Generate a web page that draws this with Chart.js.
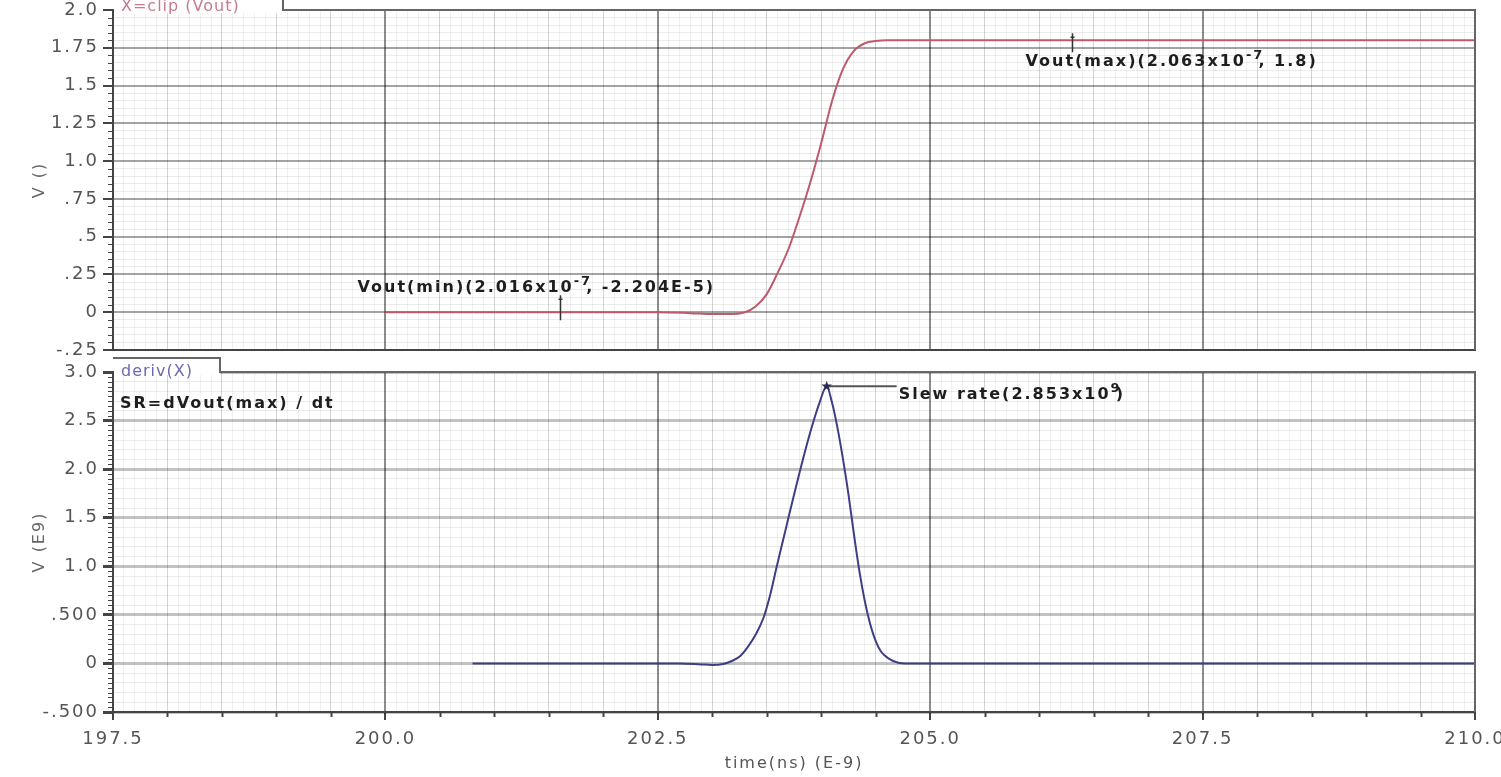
<!DOCTYPE html>
<html>
<head>
<meta charset="utf-8">
<title>Vout slew rate</title>
<script src="https://cdn.jsdelivr.net/npm/chart.js@4.4.0/dist/chart.umd.min.js"></script>
<style>
  body { margin: 0; background: #fff; }
  #wrap { position: relative; width: 1501px; height: 777px; overflow: hidden; }
  canvas { position: absolute; left: 0; }
  #topChart { top: 0; }
  #botChart { top: 354px; }
</style>
</head>
<body>
<div id="wrap">
  <canvas id="topChart" width="1501" height="362"></canvas>
  <canvas id="botChart" width="1501" height="423"></canvas>
</div>
<script>
// time axis, ns
const timeTicks = [197.5, 200.0, 202.5, 205.0, 207.5, 210.0];
const timeLabels = ['197.5', '200.0', '202.5', '205.0', '207.5', '210.0'];

// X = clip(Vout), volts
const clipTime = [200.0, 202.5, 202.8, 203.0, 203.15, 203.3, 203.4, 203.5, 203.6, 203.7, 203.8, 203.9,
  204.0, 204.1, 204.2, 204.3, 204.4, 204.5, 204.6, 204.75, 210.0];
const clipVolt = [0, 0, -0.006, -0.012, -0.012, 0.0, 0.04, 0.12, 0.26, 0.42, 0.63, 0.86,
  1.12, 1.40, 1.61, 1.73, 1.78, 1.795, 1.8, 1.8, 1.8];

// deriv(X), V/s in E9
const derivTime = [200.8, 202.7, 202.9, 203.0, 203.1, 203.19, 203.26, 203.32, 203.4, 203.47, 203.53, 203.59,
  203.65, 203.71, 203.76, 203.8, 203.86, 203.92, 203.98, 204.05, 204.1, 204.15, 204.2, 204.25, 204.3,
  204.35, 204.4, 204.45, 204.5, 204.55, 204.62, 204.7, 204.8, 210.0];
const derivVal = [0, 0, -0.01, -0.015, -0.005, 0.03, 0.08, 0.16, 0.3, 0.47, 0.7, 0.99,
  1.27, 1.55, 1.78, 1.96, 2.22, 2.46, 2.67, 2.853, 2.68, 2.42, 2.1, 1.74, 1.33,
  0.95, 0.64, 0.4, 0.23, 0.12, 0.05, 0.01, 0, 0];

// y tick labels
const topYTicks = [2.0, 1.75, 1.5, 1.25, 1.0, 0.75, 0.5, 0.25, 0, -0.25];
const topYLabels = ['2.0', '1.75', '1.5', '1.25', '1.0', '.75', '.5', '.25', '0', '-.25'];
const botYTicks = [3.0, 2.5, 2.0, 1.5, 1.0, 0.5, 0, -0.5];
const botYLabels = ['3.0', '2.5', '2.0', '1.5', '1.0', '.500', '0', '-.500'];

// markers on Vout
const markTime = [206.3, 201.6];
const markVolt = [1.8, 0];
const markText = ['Vout(max)(2.063x10', 'Vout(min)(2.016x10'];
const markSup = ['-7', '-7'];
const markTail = [', 1.8)', ', -2.204E-5)'];

// slew rate point
const slewTime = [204.05];
const slewVal = [2.853];
const slewText = ['Slew rate(2.853x10'];
const slewSup = ['9'];
const slewTail = [')'];

const AXIS = '#444';
const TICK_FONT = { family: 'DejaVu Sans', size: 18 };
const near = (v, step) => Math.abs(v / step - Math.round(v / step)) < 1e-6;
const stepTicks = (min, max, step) => {
  const n = Math.round((max - min) / step), out = [];
  for (let i = 0; i <= n; i++) out.push({ value: +(min + i * step).toFixed(5) });
  return out;
};
const labelFor = (v, vals, labels) => {
  const i = vals.findIndex(t => Math.abs(t - v) < 1e-6);
  return i < 0 ? '' : labels[i];
};
const tv = c => (c.tick ? c.tick.value : 0);

function timeScale(bottomAxis) {
  return {
    type: 'linear', min: 197.5, max: 210,
    afterBuildTicks: s => { s.ticks = stepTicks(197.5, 210, 0.1); },
    afterFit: s => { s.height = bottomAxis ? 65 : 12; s.paddingLeft = 0; s.paddingRight = 0; },
    grid: {
      color: c => near(tv(c), 2.5) ? 'rgba(0,0,0,0.45)' : near(tv(c), 0.5) ? 'rgba(0,0,0,0.17)' : 'rgba(0,0,0,0.06)',
      lineWidth: c => near(tv(c), 2.5) ? 2 : 1,
      drawTicks: bottomAxis, tickLength: 8,
      tickColor: c => near(tv(c), 2.5) ? AXIS : 'rgba(0,0,0,0)'
    },
    border: { color: AXIS, width: 2 },
    ticks: {
      display: bottomAxis, autoSkip: false, maxRotation: 0, minRotation: 0, padding: 9,
      color: '#555', font: TICK_FONT,
      callback: v => labelFor(v, timeTicks, timeLabels)
    },
    title: {
      display: bottomAxis, text: 'time(ns) (E-9)', color: '#555',
      font: { family: 'DejaVu Sans', size: 16 }, padding: { top: 0, bottom: 4 }
    }
  };
}

function voltScale(min, max, step, fine, major, vals, labels, title, majorColor, majorWidth) {
  return {
    type: 'linear', min: min, max: max,
    afterBuildTicks: s => { s.ticks = stepTicks(min, max, step); },
    afterFit: s => { s.width = 113; s.paddingTop = 0; s.paddingBottom = 0; },
    grid: {
      color: c => near(tv(c), major) ? majorColor : near(tv(c), fine) ? 'rgba(0,0,0,0.08)' : 'rgba(0,0,0,0)',
      lineWidth: c => near(tv(c), major) ? majorWidth : 1,
      tickLength: 10,
      tickColor: c => near(tv(c), major) ? AXIS : 'rgba(0,0,0,0)'
    },
    border: { color: AXIS, width: 2 },
    ticks: {
      autoSkip: false, padding: 4, color: '#555', font: TICK_FONT,
      callback: v => labelFor(v, vals, labels)
    },
    title: {
      display: true, text: title, color: '#666',
      font: { family: 'DejaVu Sans', size: 16 }, padding: { top: 30, bottom: 0 }
    }
  };
}

// wider letter spacing for all text, the scope renders text loosely
const spacing = {
  id: 'spacing',
  beforeUpdate(chart) { chart.ctx.letterSpacing = '2px'; },
  beforeDraw(chart) { chart.ctx.letterSpacing = '2px'; }
};

// panel frame, name tab and small tick marks
const frame = {
  id: 'frame',
  afterDraw(chart, args, opts) {
    const { ctx, chartArea: a, scales: { x, y } } = chart;
    ctx.save();
    ctx.strokeStyle = AXIS;
    ctx.lineWidth = 1;
    y.ticks.forEach(t => {
      if (near(t.value, opts.major)) return;
      const py = Math.round(y.getPixelForValue(t.value)) + 0.5;
      ctx.beginPath(); ctx.moveTo(a.left - 5, py); ctx.lineTo(a.left, py); ctx.stroke();
    });
    if (opts.xMarks) {
      x.ticks.forEach(t => {
        if (!near(t.value, 0.5) || near(t.value, 2.5)) return;
        const px = Math.round(x.getPixelForValue(t.value)) + 0.5;
        ctx.lineWidth = 2;
        ctx.beginPath(); ctx.moveTo(px, a.bottom); ctx.lineTo(px, a.bottom + 5); ctx.stroke();
      });
    }
    const tabRight = a.left + opts.tabWidth;
    ctx.fillStyle = '#fff';
    ctx.fillRect(a.left + 1, opts.tabTop, opts.tabWidth - 1, a.top - opts.tabTop + 3);
    ctx.strokeStyle = '#666';
    ctx.lineWidth = 2;
    ctx.beginPath();
    ctx.moveTo(a.left, opts.tabTop); ctx.lineTo(tabRight, opts.tabTop); ctx.lineTo(tabRight, a.top);
    ctx.lineTo(a.right, a.top); ctx.lineTo(a.right, a.bottom);
    ctx.stroke();
    ctx.letterSpacing = '1px';
    ctx.fillStyle = opts.tabColor;
    ctx.font = '16px "DejaVu Sans"';
    ctx.textBaseline = 'alphabetic';
    ctx.fillText(opts.tabText, a.left + 8, a.top + opts.textDy);
    ctx.restore();
  }
};

const BOLD = 'bold 16px "DejaVu Sans"';
const SUP = 'bold 13px "DejaVu Sans"';

// text with a raised exponent, as the scope prints it
function supText(ctx, base, sup, tail, x0, y0) {
  ctx.font = BOLD;
  ctx.fillText(base, x0, y0);
  let xx = x0 + ctx.measureText(base).width;
  ctx.font = SUP;
  ctx.fillText(sup, xx, y0 - 7);
  xx += ctx.measureText(sup).width - 6;
  ctx.font = BOLD;
  ctx.fillText(tail, xx, y0);
}

const topNotes = {
  id: 'topNotes',
  afterDatasetsDraw(chart) {
    const { ctx, scales: { x, y } } = chart;
    const style = [{ dx: -47, dy: 22, from: -7, to: 12 }, { dx: -203, dy: -24, from: -17, to: 8 }];
    ctx.save();
    ctx.strokeStyle = '#333';
    ctx.lineWidth = 1.5;
    ctx.fillStyle = '#1e1e1e';
    ctx.letterSpacing = '2px';
    ctx.textBaseline = 'middle';
    markTime.forEach((t, i) => {
      const px = Math.round(x.getPixelForValue(t)) + 0.5;
      const py = y.getPixelForValue(markVolt[i]);
      const s = style[i];
      ctx.beginPath();
      ctx.moveTo(px, py + s.from); ctx.lineTo(px, py + s.to);
      ctx.moveTo(px - 2, py + s.from + 4); ctx.lineTo(px + 2, py + s.from + 4);
      ctx.stroke();
      supText(ctx, markText[i], markSup[i], markTail[i], px + s.dx, py + s.dy);
    });
    ctx.restore();
  }
};

const botNotes = {
  id: 'botNotes',
  afterDatasetsDraw(chart) {
    const { ctx, chartArea: a, scales: { x, y } } = chart;
    ctx.save();
    ctx.fillStyle = '#1e1e1e';
    ctx.font = BOLD;
    ctx.letterSpacing = '2px';
    ctx.textBaseline = 'middle';
    ctx.fillText('SR=dVout(max) / dt', a.left + 7, a.top + 32);
    slewTime.forEach((t, i) => {
      const px = x.getPixelForValue(t), py = y.getPixelForValue(slewVal[i]);
      ctx.strokeStyle = '#555';
      ctx.lineWidth = 2;
      ctx.beginPath(); ctx.moveTo(px, py); ctx.lineTo(px + 70, py); ctx.stroke();
      ctx.fillStyle = '#2a2a50';
      ctx.beginPath();
      for (let k = 0; k < 10; k++) {
        const r = k % 2 ? 2.2 : 5.5, ang = -Math.PI / 2 + k * Math.PI / 5;
        ctx.lineTo(px + r * Math.cos(ang), py + r * Math.sin(ang));
      }
      ctx.closePath(); ctx.fill();
      ctx.fillStyle = '#1e1e1e';
      supText(ctx, slewText[i], slewSup[i], slewTail[i], px + 72, py + 9);
    });
    ctx.restore();
  }
};

new Chart(document.getElementById('topChart'), {
  type: 'line',
  data: {
    datasets: [{
      label: 'X=clip (Vout)',
      data: clipTime.map((t, i) => ({ x: t, y: clipVolt[i] })),
      borderColor: '#bd5a6c', borderWidth: 2, pointRadius: 0,
      cubicInterpolationMode: 'monotone'
    }]
  },
  options: {
    responsive: false, animation: false,
    layout: { padding: { top: 10, right: 26, left: 0, bottom: 0 } },
    plugins: {
      legend: { display: false }, tooltip: { enabled: false },
      frame: { major: 0.25, xMarks: false, tabWidth: 170, tabTop: -4, tabText: 'X=clip (Vout)', tabColor: '#c77c8c', textDy: 1 }
    },
    scales: {
      x: timeScale(false),
      y: voltScale(-0.25, 2.0, 0.05, 0.05, 0.25, topYTicks, topYLabels, 'V ()', 'rgba(0,0,0,0.36)', 2)
    }
  },
  plugins: [spacing, frame, topNotes]
});

new Chart(document.getElementById('botChart'), {
  type: 'line',
  data: {
    datasets: [{
      label: 'deriv(X)',
      data: derivTime.map((t, i) => ({ x: t, y: derivVal[i] })),
      borderColor: '#3e3e86', borderWidth: 2, pointRadius: 0,
      cubicInterpolationMode: 'monotone'
    }]
  },
  options: {
    responsive: false, animation: false,
    layout: { padding: { top: 18, right: 26, left: 0, bottom: 0 } },
    plugins: {
      legend: { display: false }, tooltip: { enabled: false },
      frame: { major: 0.5, xMarks: true, tabWidth: 107, tabTop: 4, tabText: 'deriv(X)', tabColor: '#6b6bb0', textDy: 4 }
    },
    scales: {
      x: timeScale(true),
      y: voltScale(-0.5, 3.0, 0.05, 0.1, 0.5, botYTicks, botYLabels, 'V (E9)', 'rgba(0,0,0,0.24)', 3)
    }
  },
  plugins: [spacing, frame, botNotes]
});
</script>
</body>
</html>
